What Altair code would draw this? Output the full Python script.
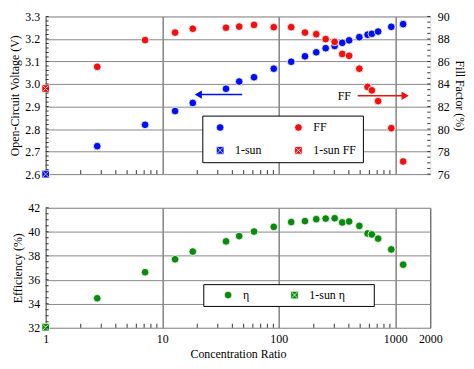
import altair as alt
import pandas as pd

FONT = "Liberation Serif"
FS = 12

# ---- data ----
conc = [2.77, 7.13, 12.9, 18.3, 35.3, 45.8, 61.4, 90.7, 128, 168, 210, 253,
        302, 351, 402, 492, 579, 630, 713, 925, 1169]
voc = [2.724, 2.819, 2.880, 2.916, 2.979, 3.011, 3.030, 3.068, 3.099, 3.123,
       3.141, 3.159, 3.169, 3.183, 3.194, 3.208, 3.219, 3.223, 3.233, 3.254, 3.266]
ff = [85.53, 87.90, 88.57, 88.91, 89.00, 89.10, 89.25, 89.05, 89.05, 88.57,
      88.43, 87.99, 87.74, 86.67, 86.51, 85.36, 83.74, 83.44, 82.48, 80.08, 77.12]
eta = [34.46, 36.63, 37.71, 38.35, 39.20, 39.64, 40.02, 40.41, 40.81, 40.89,
       41.05, 41.10, 41.13, 40.78, 40.86, 40.49, 39.86, 39.78, 39.43, 38.53, 37.26]
one_sun_conc = 1
one_sun_voc = 2.6
one_sun_ff = 83.6
one_sun_eta = 32.05

# annotation arrows
blue_arrow_x = [20.4, 48.6]
blue_arrow_y = 2.953
red_arrow_x = [476, 1216]
red_arrow_y = 82.96
ff_text_x = 416

x_major = [1, 10, 100, 1000]
x_labels = [1, 10, 100, 1000, 2000]
x_minor = [m * d for d in (1, 10, 100) for m in range(2, 10)]
voc_ticks = [round(2.6 + 0.1 * i, 1) for i in range(8)]
voc_minor = [round(2.6 + 0.02 * i, 2) for i in range(36)]
ff_ticks = list(range(76, 91, 2))
ff_minor = [76 + 0.5 * i for i in range(29)]
eta_ticks = list(range(32, 43, 2))
eta_minor = [32 + 0.5 * i for i in range(21)]

W = 388
H1 = 159
H2 = 121
XDOM = [1, 2000]

BOX = "M-1,-1H1V1H-1Z M-0.75,-0.75L0.75,0.75 M0.75,-0.75L-0.75,0.75"

xscale = alt.Scale(type="log", domain=XDOM, nice=False)
AX = dict(labelFont=FONT, labelFontSize=FS, labelColor="black", titleFont=FONT,
          titleFontSize=FS, titleFontWeight="normal", titleColor="black")

# ---------------- top chart ----------------
voc_df = pd.DataFrame({"C": conc + [one_sun_conc], "V": voc + [one_sun_voc],
                       "series": ["Voc"] * len(conc) + ["1-sun"]})
ff_df = pd.DataFrame({"C": conc + [one_sun_conc], "V": ff + [one_sun_ff],
                      "series": ["FF"] * len(conc) + ["1-sun FF"]})

top_dom = ["Voc", "1-sun", "FF", "1-sun FF"]
top_color = alt.Scale(domain=top_dom, range=["#0010f0", "#0010f0", "#f01010", "#f01010"])
top_shape = alt.Scale(domain=top_dom, range=["circle", BOX, "circle", BOX])
top_legend = alt.Legend(orient="none", legendX=158, legendY=100, columns=2,
                        title=" ", titleOrient="right", titlePadding=1,
                        titleFont=FONT, titleFontSize=FS,
                        strokeColor="black", fillColor="white", padding=6,
                        labelFont=FONT, labelFontSize=FS, labelColor="black",
                        symbolSize=60, symbolStrokeColor="white", symbolStrokeWidth=0.8,
                        symbolOffset=6, rowPadding=11, columnPadding=25, labelOffset=9,
                        labelExpr="datum.label == 'Voc' ? '' : datum.label")

voc_layer = alt.Chart(voc_df).mark_point(filled=True, size=60, opacity=1,
                                         stroke="white", strokeWidth=0.8).encode(
    x=alt.X("C:Q", scale=xscale,
            axis=alt.Axis(values=x_major, labels=False, ticks=False, domain=False,
                          title=None, grid=True, gridColor="#444", gridWidth=1)),
    y=alt.Y("V:Q", scale=alt.Scale(domain=[2.6, 3.3], nice=False, zero=False),
            axis=alt.Axis(values=voc_ticks, format=".1f", title="Open-Circuit Voltage (V)",
                          ticks=False, domain=False, grid=True, gridColor="#888",
                          labelPadding=6, titlePadding=3, **AX)),
    color=alt.Color("series:N", scale=top_color, legend=top_legend),
    shape=alt.Shape("series:N", scale=top_shape, legend=top_legend),
)

ff_layer = alt.Chart(ff_df).mark_point(filled=True, size=60, opacity=1,
                                       stroke="white", strokeWidth=0.8).encode(
    x=alt.X("C:Q", scale=xscale),
    y=alt.Y("V:Q", scale=alt.Scale(domain=[76, 90], nice=False, zero=False),
            axis=alt.Axis(values=ff_ticks, orient="right", title="Fill Factor (%)",
                          ticks=False, domain=False, grid=False,
                          labelPadding=7, titlePadding=3, **AX)),
    color=alt.Color("series:N", scale=top_color, legend=top_legend),
    shape=alt.Shape("series:N", scale=top_shape, legend=top_legend),
)


def xminor_layer(h):
    return alt.Chart(pd.DataFrame({"C": x_minor})).mark_rule(color="#333", strokeWidth=1).encode(
        x=alt.X("C:Q", scale=xscale), y=alt.value(h - 4), y2=alt.value(h))


def yminor_layer(vals, dom, right=False):
    base = alt.Chart(pd.DataFrame({"V": vals})).mark_rule(color="#333", strokeWidth=1)
    if right:
        xs = dict(x=alt.value(W - 3), x2=alt.value(W))
    else:
        xs = dict(x=alt.value(0), x2=alt.value(3))
    return base.encode(y=alt.Y("V:Q", scale=alt.Scale(domain=dom, nice=False, zero=False), axis=None), **xs)


vscale = alt.Scale(domain=[2.6, 3.3], nice=False, zero=False)
fscale = alt.Scale(domain=[76, 90], nice=False, zero=False)

blue_arrow = alt.Chart(pd.DataFrame({"x1": [blue_arrow_x[0]], "x2": [blue_arrow_x[1]], "y": [blue_arrow_y]})).mark_rule(
    color="#0010f0", strokeWidth=1.5).encode(
    x=alt.X("x1:Q", scale=xscale), x2="x2:Q", y=alt.Y("y:Q", scale=vscale, axis=None))
blue_head = alt.Chart(pd.DataFrame({"x": [blue_arrow_x[0]], "y": [blue_arrow_y]})).mark_point(
    shape="triangle-left", filled=True, color="#0010f0", size=70, opacity=1).encode(
    x=alt.X("x:Q", scale=xscale), y=alt.Y("y:Q", scale=vscale, axis=None))
red_arrow = alt.Chart(pd.DataFrame({"x1": [red_arrow_x[0]], "x2": [red_arrow_x[1]], "y": [red_arrow_y]})).mark_rule(
    color="#f01010", strokeWidth=1.5).encode(
    x=alt.X("x1:Q", scale=xscale), x2="x2:Q", y=alt.Y("y:Q", scale=fscale, axis=None))
red_head = alt.Chart(pd.DataFrame({"x": [red_arrow_x[1]], "y": [red_arrow_y]})).mark_point(
    shape="triangle-right", filled=True, color="#f01010", size=70, opacity=1).encode(
    x=alt.X("x:Q", scale=xscale), y=alt.Y("y:Q", scale=fscale, axis=None))
ff_text = alt.Chart(pd.DataFrame({"x": [ff_text_x], "y": [red_arrow_y], "t": ["FF"]})).mark_text(
    align="right", baseline="middle", font=FONT, fontSize=FS, color="black").encode(
    x=alt.X("x:Q", scale=xscale), y=alt.Y("y:Q", scale=fscale, axis=None), text="t:N")

top = alt.layer(
    voc_layer, ff_layer,
    xminor_layer(H1),
    yminor_layer(voc_minor, [2.6, 3.3]),
    yminor_layer(ff_minor, [76, 90], right=True),
    blue_arrow, blue_head, red_arrow, red_head, ff_text,
).resolve_scale(y="independent").properties(width=W, height=H1)

# ---------------- bottom chart ----------------
eta_df = pd.DataFrame({"C": conc + [one_sun_conc], "V": eta + [one_sun_eta],
                       "series": ["η"] * len(conc) + ["1-sun η"]})
bot_dom = ["η", "1-sun η"]
bot_color = alt.Scale(domain=bot_dom, range=["#0a8a0a", "#0a8a0a"])
bot_shape = alt.Scale(domain=bot_dom, range=["circle", BOX])
bot_legend = alt.Legend(orient="none", legendX=159, legendY=77, columns=2,
                        title=" ", titleOrient="right", titlePadding=24,
                        titleFont=FONT, titleFontSize=FS,
                        strokeColor="black", fillColor="white", padding=5,
                        labelFont=FONT, labelFontSize=FS, labelColor="black",
                        symbolSize=60, symbolStrokeColor="white", symbolStrokeWidth=0.8,
                        symbolOffset=14, columnPadding=25, labelOffset=9)

eta_layer = alt.Chart(eta_df).mark_point(filled=True, size=60, opacity=1,
                                         stroke="white", strokeWidth=0.8).encode(
    x=alt.X("C:Q", scale=xscale,
            axis=alt.Axis(values=x_labels, format="d", ticks=False, domain=False,
                          labelOverlap=False, labelBound=False, labelFlush=False,
                          title="Concentration Ratio", grid=True, gridColor="#444",
                          labelPadding=6, titlePadding=4, **AX)),
    y=alt.Y("V:Q", scale=alt.Scale(domain=[32, 42], nice=False, zero=False),
            axis=alt.Axis(values=eta_ticks, title="Efficiency (%)", ticks=False, domain=False,
                          grid=True, gridColor="#888", labelPadding=6, titlePadding=3, **AX)),
    color=alt.Color("series:N", scale=bot_color, legend=bot_legend),
    shape=alt.Shape("series:N", scale=bot_shape, legend=bot_legend),
)

bottom = alt.layer(
    eta_layer,
    xminor_layer(H2),
    yminor_layer(eta_minor, [32, 42]),
).resolve_scale(y="independent").properties(width=W, height=H2)

chart = alt.vconcat(top, bottom, spacing=20).resolve_scale(
    color="independent", shape="independent").resolve_legend(
    color="independent", shape="independent").properties(padding=0
).configure_view(stroke="black", strokeWidth=1.5).configure(background="white")

chart.save("out.html", embed_options={"renderer": "svg", "actions": False})
